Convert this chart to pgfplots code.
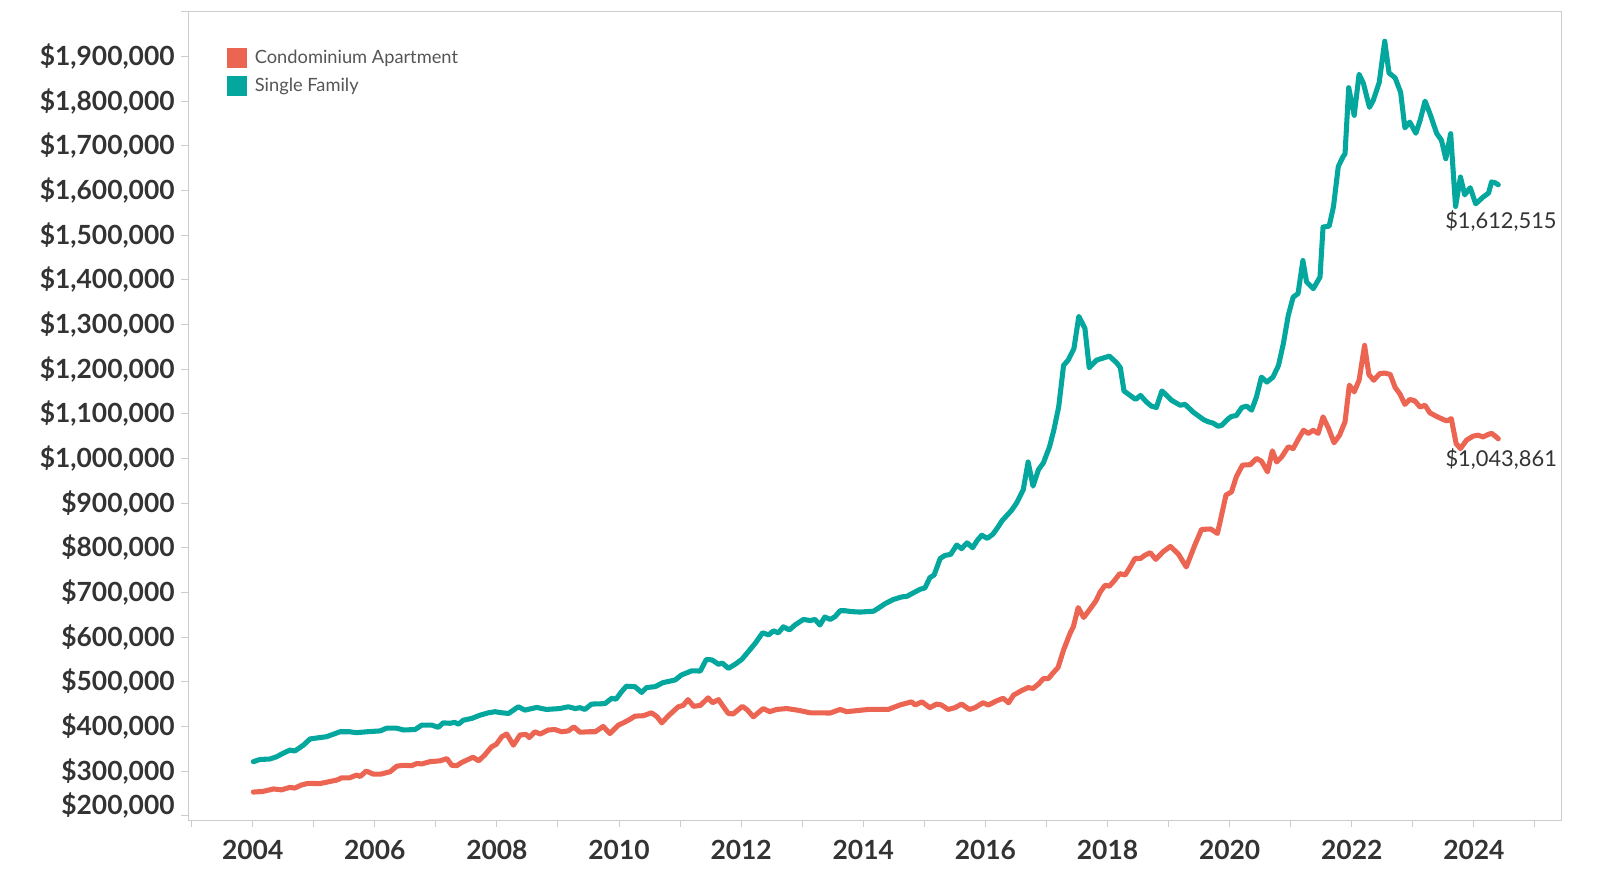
\documentclass[border=0pt]{standalone}
\usepackage{pgfplots}
\usepackage{pgfplotstable}
\pgfplotsset{compat=1.18}
\usepackage{fontspec}
\setmainfont{Lato}

\definecolor{condo}{RGB}{236,101,82}
\definecolor{single}{RGB}{4,167,157}
\definecolor{ticktext}{RGB}{51,51,51}
\definecolor{legtext}{RGB}{85,85,85}
\definecolor{frame}{RGB}{204,204,204}

% median price, Condominium Apartment
\pgfplotstableread{
year price
2004.01 253000
2004.17 254500
2004.34 260000
2004.47 258000
2004.61 263500
2004.69 262000
2004.80 269000
2004.91 272500
2005.10 272000
2005.24 276000
2005.38 280000
2005.46 285000
2005.59 285000
2005.70 291000
2005.76 288000
2005.86 300000
2005.98 293000
2006.09 293000
2006.25 298500
2006.36 311000
2006.47 313000
2006.60 312000
2006.69 317000
2006.77 316000
2006.90 321000
2007.07 323000
2007.18 328000
2007.26 313000
2007.34 312000
2007.42 319000
2007.56 328000
2007.61 331000
2007.70 323000
2007.80 336000
2007.91 354000
2007.99 360000
2008.08 377000
2008.16 383000
2008.27 358000
2008.38 381000
2008.48 382000
2008.53 375000
2008.62 388000
2008.71 383000
2008.84 392000
2008.95 393000
2009.06 388000
2009.17 390000
2009.26 399000
2009.36 387000
2009.50 388000
2009.61 388000
2009.74 400000
2009.85 384000
2009.99 403000
2010.07 408000
2010.18 416000
2010.26 423000
2010.40 424000
2010.53 430500
2010.62 422000
2010.70 408000
2010.81 424000
2010.97 444000
2011.05 447000
2011.13 460000
2011.22 445000
2011.33 447000
2011.46 464000
2011.53 453000
2011.63 460000
2011.71 444000
2011.79 429000
2011.87 428000
2012.02 445000
2012.10 437000
2012.20 421500
2012.36 440000
2012.47 433000
2012.58 438000
2012.75 440000
2012.94 436000
2013.13 430500
2013.46 430000
2013.62 438000
2013.73 433000
2013.87 435000
2014.08 438000
2014.41 438000
2014.60 448000
2014.79 455000
2014.85 448000
2014.96 455000
2015.09 442000
2015.20 450000
2015.28 448000
2015.39 438000
2015.50 442000
2015.61 450000
2015.74 438000
2015.83 442000
2015.96 453000
2016.05 448000
2016.18 457000
2016.29 463000
2016.38 453000
2016.46 470000
2016.59 480000
2016.70 487000
2016.78 485000
2016.87 495000
2016.95 507000
2017.03 507000
2017.11 520000
2017.19 532000
2017.28 571000
2017.39 609500
2017.44 623000
2017.52 666000
2017.61 644000
2017.71 662000
2017.81 681000
2017.88 701000
2017.96 716000
2018.03 714000
2018.11 726000
2018.20 742000
2018.29 739000
2018.37 757000
2018.45 776000
2018.54 776000
2018.61 783000
2018.70 789000
2018.79 774000
2018.91 791000
2019.03 803000
2019.16 786000
2019.29 757000
2019.43 806000
2019.54 841000
2019.69 842000
2019.80 832000
2019.85 862000
2019.94 918000
2020.03 925000
2020.11 959000
2020.21 985000
2020.34 986000
2020.44 1000000
2020.52 994000
2020.62 970000
2020.70 1017000
2020.77 992000
2020.85 1003000
2020.96 1026000
2021.04 1022000
2021.12 1042000
2021.21 1063000
2021.29 1056000
2021.37 1063000
2021.45 1056000
2021.53 1093000
2021.62 1067000
2021.71 1035000
2021.80 1052000
2021.89 1082000
2021.96 1164000
2022.04 1149000
2022.12 1175000
2022.21 1253000
2022.28 1188000
2022.36 1175000
2022.46 1190000
2022.54 1191000
2022.63 1188000
2022.71 1159000
2022.79 1144000
2022.87 1121000
2022.95 1132000
2023.03 1129000
2023.12 1115000
2023.20 1119000
2023.28 1102000
2023.39 1094000
2023.50 1087000
2023.56 1084000
2023.63 1089000
2023.71 1033000
2023.78 1022000
2023.88 1041000
2023.99 1050000
2024.07 1052000
2024.15 1048000
2024.24 1054000
2024.29 1056000
2024.35 1050000
2024.40 1043861
}\condo

% median price, Single Family
\pgfplotstableread{
year price
2004.01 321000
2004.12 326000
2004.28 327000
2004.39 332000
2004.50 340000
2004.61 347000
2004.69 345000
2004.83 358000
2004.94 372000
2005.10 375000
2005.21 377000
2005.29 381000
2005.43 388000
2005.59 388000
2005.70 386000
2005.87 388000
2006.09 390000
2006.19 396000
2006.36 396000
2006.47 392000
2006.66 393000
2006.77 403000
2006.93 403000
2007.04 398000
2007.12 408000
2007.23 407000
2007.31 409000
2007.37 405000
2007.45 414000
2007.59 418000
2007.72 425000
2007.86 430500
2007.97 433000
2008.05 431000
2008.19 429000
2008.35 444000
2008.46 436500
2008.65 442500
2008.81 438000
2009.03 440000
2009.17 444000
2009.28 440000
2009.36 442000
2009.44 438000
2009.55 450000
2009.77 451000
2009.88 463000
2009.95 461000
2010.04 477500
2010.12 490000
2010.26 489000
2010.37 476000
2010.45 487000
2010.59 489000
2010.72 498000
2010.92 504000
2011.02 515000
2011.19 524500
2011.33 524000
2011.43 550000
2011.52 549000
2011.63 539000
2011.69 542000
2011.79 530000
2011.90 539000
2012.01 550000
2012.09 563000
2012.23 586000
2012.35 609500
2012.45 605000
2012.53 614000
2012.61 609500
2012.69 623000
2012.79 616000
2012.88 627000
2013.02 639500
2013.13 637000
2013.21 639500
2013.29 627000
2013.37 645000
2013.46 639500
2013.54 646000
2013.62 659000
2013.70 659000
2013.81 657000
2013.95 656000
2014.17 658000
2014.25 665000
2014.36 675000
2014.49 684000
2014.63 690000
2014.71 691000
2014.82 699000
2014.93 707000
2015.01 710000
2015.09 733000
2015.16 739000
2015.26 776000
2015.34 783000
2015.43 785000
2015.53 806000
2015.61 798000
2015.70 811000
2015.79 800000
2015.87 817000
2015.94 828000
2016.03 821000
2016.12 830000
2016.20 845000
2016.27 860000
2016.43 884000
2016.51 900000
2016.62 930000
2016.70 992000
2016.78 938000
2016.87 975000
2016.95 990000
2017.05 1026000
2017.12 1063000
2017.20 1115000
2017.28 1208000
2017.36 1221000
2017.45 1246000
2017.53 1318000
2017.63 1291000
2017.70 1203000
2017.82 1220000
2018.03 1229000
2018.15 1214000
2018.21 1203000
2018.27 1151000
2018.37 1141000
2018.46 1132000
2018.54 1141000
2018.64 1126000
2018.72 1117000
2018.80 1114000
2018.89 1151000
2018.94 1145000
2019.05 1130000
2019.19 1119000
2019.27 1121000
2019.40 1104000
2019.57 1087000
2019.65 1082000
2019.73 1079000
2019.81 1072000
2019.87 1074000
2019.98 1089000
2020.03 1094000
2020.11 1096000
2020.20 1114000
2020.28 1117000
2020.36 1108000
2020.44 1138000
2020.52 1182000
2020.61 1171000
2020.71 1182000
2020.80 1208000
2020.88 1257000
2020.96 1320000
2021.04 1361000
2021.12 1369000
2021.20 1443000
2021.26 1395000
2021.37 1380000
2021.48 1406000
2021.53 1518000
2021.63 1520000
2021.70 1563000
2021.78 1654000
2021.86 1676000
2021.89 1682000
2021.95 1830000
2022.04 1768000
2022.12 1860000
2022.19 1840000
2022.29 1786000
2022.35 1801000
2022.45 1842000
2022.54 1934000
2022.61 1863000
2022.71 1852000
2022.80 1820000
2022.87 1740000
2022.95 1753000
2023.05 1728000
2023.12 1757000
2023.20 1800000
2023.28 1772000
2023.39 1728000
2023.47 1712000
2023.54 1671000
2023.62 1727000
2023.70 1564000
2023.78 1630000
2023.85 1590000
2023.94 1606000
2024.03 1570000
2024.15 1585000
2024.24 1594000
2024.29 1619000
2024.35 1617000
2024.40 1612515
}\single

\begin{document}
\begin{tikzpicture}
\begin{axis}[
    name=ax,
    scale only axis,
    width=1029.5pt,
    height=606.2pt,
    xmin=2002.945, xmax=2025.427,
    ymin=190400, ymax=2000000,
    axis line style={draw=frame, line width=0.75pt},
    tick pos=left,
    tick align=outside,
    tick style={draw=frame, line width=0.75pt},
    major tick length=5.3pt,
    minor tick length=5.3pt,
    xtick={2004,2006,...,2024},
    minor xtick={2003,2005,...,2025},
    xticklabels={2004,2006,2008,2010,2012,2014,2016,2018,2020,2022,2024},
    ytick={300000,400000,...,1900000},
    yticklabels={{\$300,000},{\$400,000},{\$500,000},{\$600,000},{\$700,000},{\$800,000},{\$900,000},{\$1,000,000},{\$1,100,000},{\$1,200,000},{\$1,300,000},{\$1,400,000},{\$1,500,000},{\$1,600,000},{\$1,700,000},{\$1,800,000},{\$1,900,000}},
    extra y ticks={200000,2000000},
    extra y tick labels={{\$200,000},{}},
    extra y tick style={yticklabel style={yshift=7.5pt}},
    scaled y ticks=false,
    xticklabel style={font=\fontsize{19.8}{23}\selectfont\bfseries, text=ticktext, inner sep=0pt, yshift=-9.3pt},
    yticklabel style={font=\fontsize{19.8}{23}\selectfont\bfseries, text=ticktext, inner sep=0pt, xshift=-4.7pt},
    legend style={at={(0.0282,0.9555)}, anchor=north west, draw=none, fill=none,
        inner sep=0pt, font=\fontsize{13.7}{16}\selectfont, text=legtext,
        row sep=6.6pt, column sep=6pt, nodes={inner sep=0pt}},
    legend cell align=left,
    legend image code/.code={\fill[#1, draw=none] (0pt,-7.35pt) rectangle (14.7pt,7.35pt);},
    every axis plot/.append style={line width=3.8pt, line join=round, line cap=round},
]
\addplot[color=condo] table[x=year, y=price] {\condo};
\addlegendentry{Condominium Apartment}
\addplot[color=single] table[x=year, y=price] {\single};
\addlegendentry{Single Family}

\node[anchor=base, text=ticktext, font=\fontsize{16.4}{19}\selectfont, inner sep=0pt, xshift=2pt, yshift=-32.5pt]
    at (axis cs:2024.40,1612515) {\$1,612,515};
\node[anchor=base, text=ticktext, font=\fontsize{16.4}{19}\selectfont, inner sep=0pt, xshift=2.2pt, yshift=-20.5pt]
    at (axis cs:2024.40,1043861) {\$1,043,861};
\end{axis}
\pgfresetboundingbox
\path[use as bounding box] ([shift={(-141.2pt,-42pt)}]ax.south west) rectangle ([shift={(38.25pt,8.8pt)}]ax.north east);
\end{tikzpicture}
\end{document}
